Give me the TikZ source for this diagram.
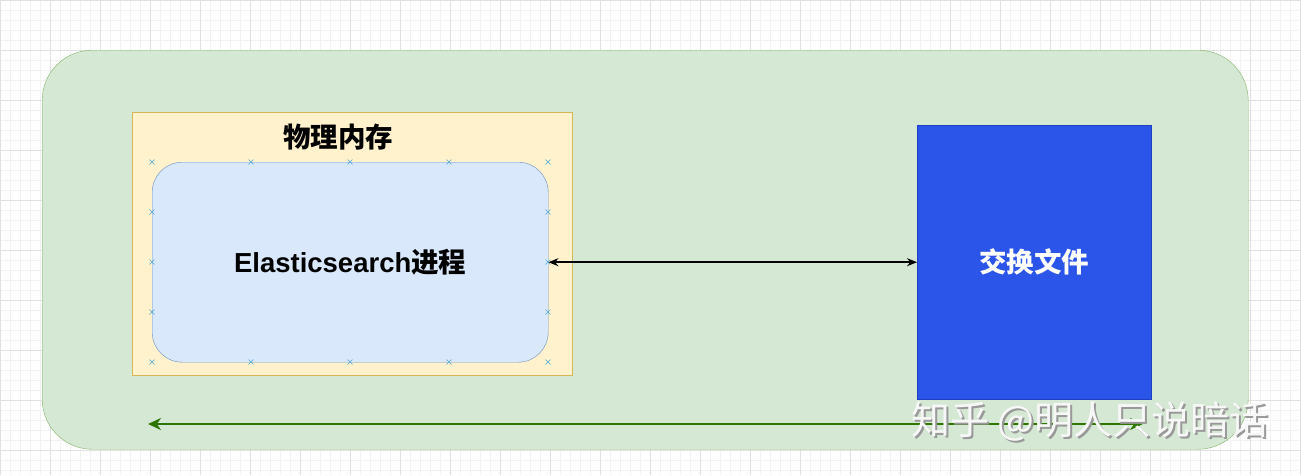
\documentclass[tikz,border=0pt]{standalone}
\usepackage{fontspec}
\setmainfont{Liberation Sans}
\newfontfamily\cjk{Noto Sans CJK SC}
\usetikzlibrary{arrows.meta}
\definecolor{gfill}{HTML}{D5E8D4}\definecolor{gline}{HTML}{82B366}
\definecolor{yfill}{HTML}{FFF2CC}\definecolor{yline}{HTML}{D6B656}
\definecolor{bfill}{HTML}{DAE8FC}\definecolor{bline}{HTML}{6C8EBF}
\definecolor{swap}{HTML}{2B54E8}\definecolor{swapl}{HTML}{1E3FBF}
\definecolor{garrow}{HTML}{2D7600}\definecolor{xmark}{HTML}{4FA8D8}
\tikzset{x=1pt,y=-1pt,
  lbl/.style={font=\fontsize{27.5}{32}\selectfont\bfseries},
  xm/.style={xmark,line width=0.6pt}}
\begin{document}
\begin{tikzpicture}
\useasboundingbox (0,0) rectangle (1301,475);
\fill[white] (0,0) rectangle (1301,475);
\draw[black!5,line width=0.4pt] (0,0) grid[step=10pt] (1301,475);
\draw[black!12,line width=0.5pt] (0,0) grid[step=50pt] (1301,475);
\node[draw=gline,fill=gfill,rounded corners=50pt,minimum width=1206pt,minimum height=399pt,anchor=north west,inner sep=0] (outer) at (42,50) {};
\node[draw=yline,fill=yfill,minimum width=440pt,minimum height=263pt,anchor=north west,inner sep=0] (mem) at (132,112) {};
\node[lbl,anchor=center] (memlbl) at (338,137) {\cjk 物理内存};
\node[draw=bline,fill=bfill,rounded corners=30pt,minimum width=396pt,minimum height=200pt,anchor=north west,inner sep=0] (es) at (152,162) {};
\node[lbl] (eslbl) at (es.center) {Elasticsearch{\cjk 进程}};
\foreach \x in {152,251,350,449,548}{
  \foreach \y in {162,362}{\draw[xm] (\x-2.5,\y-2.5)--(\x+2.5,\y+2.5) (\x-2.5,\y+2.5)--(\x+2.5,\y-2.5);}}
\foreach \y in {212,262,312}{
  \foreach \x in {152,548}{\draw[xm] (\x-2.5,\y-2.5)--(\x+2.5,\y+2.5) (\x-2.5,\y+2.5)--(\x+2.5,\y-2.5);}}
\node[draw=swapl,fill=swap,minimum width=234pt,minimum height=274pt,anchor=north west,inner sep=0] (swapf) at (917,125) {};
\node[lbl,text=white] (swaplbl) at (swapf.center) {\cjk 交换文件};
\draw[{Stealth[length=10pt,width=8pt]}-{Stealth[length=10pt,width=8pt]},line width=1.5pt] (es.east) -- (swapf.west);
\coordinate (gl) at (148,424); \coordinate (gr) at (1143,424);
\draw[garrow,{Stealth[length=13pt,width=12pt]}-{Stealth[length=13pt,width=12pt]},line width=2pt] (gl) -- (gr);
\node[text=black!40,font=\cjk\fontsize{39}{44}\selectfont] (wm0) at (1092,423) {知乎 @明人只说暗话};
\node[text=white!97!black,font=\cjk\fontsize{39}{44}\selectfont] (wm) at (1090,421) {知乎 @明人只说暗话};
\end{tikzpicture}
\end{document}
